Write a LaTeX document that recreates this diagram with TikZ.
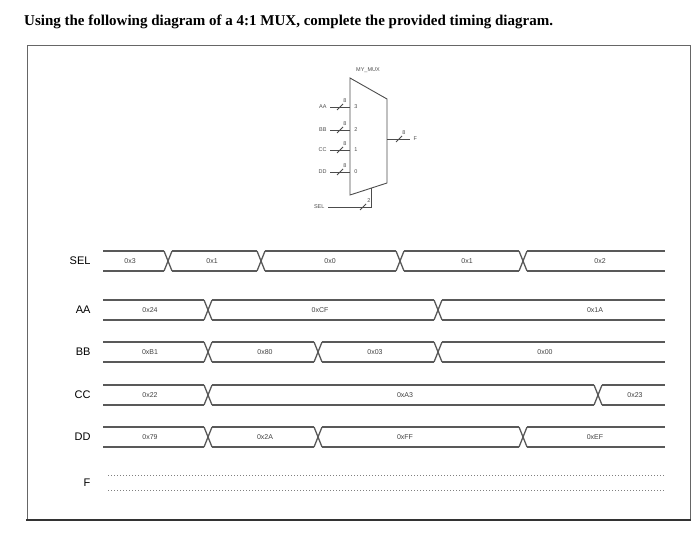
\documentclass[tikz,border=0pt]{standalone}
\usepackage{fontspec}
\setmainfont{Liberation Serif}
\newfontfamily\lsans{Liberation Sans}
\begin{document}
\begin{tikzpicture}[x=1pt,y=-1pt,
  wave/.style={draw=black!65,line width=1.3pt},
  val/.style={font=\lsans\fontsize{7}{7}\selectfont,text=black!75},
  rowlab/.style={font=\lsans\fontsize{11}{11}\selectfont,anchor=east},
  tiny/.style={font=\lsans\fontsize{5.5}{5.5}\selectfont,text=black!70},
  mline/.style={draw=black!70,line width=0.9pt}]
\useasboundingbox (0,0) rectangle (700,554);
\node[anchor=west,font=\bfseries\fontsize{15}{16}\selectfont,inner sep=0pt] (title) at (24,22) {Using the following diagram of a 4:1 MUX, complete the provided timing diagram.};
\draw[black!60,line width=0.8pt] (27,520) -- (27,45) -- (690,45) -- (690,520);
\draw[black!80,line width=2.5pt] (26,520) -- (691,520);
% MUX
\node[tiny] (mname) at (368,70) {MY\_MUX};
\draw[mline] (350,78) -- (387,99) -- (387,183) -- (350,195) -- cycle;
\foreach \n/\y/\s in {AA/107/3,BB/130/2,CC/150/1,DD/172/0}{
  \node[tiny,anchor=east] (in\n) at (330,\y) {\n};
  \draw[mline] (in\n.east) -- (350,\y);
  \draw[mline] (337,\y+3) -- (343,\y-3);
  \node[tiny] at (345,\y-6) {8};
  \node[tiny] at (356,\y) {\s};
}
\coordinate (mout) at (387,139);
\node[tiny,anchor=west] (F) at (410,139) {F};
\draw[mline] (mout) -- (F.west);
\draw[mline] (396,142) -- (402,136); \node[tiny] at (404,133) {8};
\node[tiny,anchor=east] (sel) at (328,207) {SEL};
\coordinate (selin) at (371,188);
\draw[mline] (sel.east) -- (371,207) -- (selin);
\draw[mline] (360,210) -- (366,204); \node[tiny] at (369,201) {2};
% timing
\newcommand\seg[3]{\draw[wave] (#1,#3-10) -- (#2,#3-10) (#1,#3+10) -- (#2,#3+10);}
\newcommand\xx[2]{\draw[wave] (#1-4,#2-10) -- (#1+4,#2+10) (#1-4,#2+10) -- (#1+4,#2-10);}
% SEL
\node[rowlab] (lSEL) at (94,261) {SEL};
\seg{103}{164}{261}\xx{168}{261}\seg{172}{257}{261}\xx{261}{261}\seg{265}{396}{261}\xx{400}{261}\seg{404}{519}{261}\xx{523}{261}\seg{527}{665}{261}
\foreach \x/\v in {130/0x3,212/0x1,330/0x0,467/0x1,600/0x2}{\node[val] at (\x,261) {\v};}
% AA
\node[rowlab] (lAA) at (94,310) {AA};
\seg{103}{204}{310}\xx{208}{310}\seg{212}{434}{310}\xx{438}{310}\seg{442}{665}{310}
\foreach \x/\v in {150/0x24,320/0xCF,595/0x1A}{\node[val] at (\x,310) {\v};}
% BB
\node[rowlab] (lBB) at (94,352) {BB};
\seg{103}{204}{352}\xx{208}{352}\seg{212}{314}{352}\xx{318}{352}\seg{322}{434}{352}\xx{438}{352}\seg{442}{665}{352}
\foreach \x/\v in {150/0xB1,265/0x80,375/0x03,545/0x00}{\node[val] at (\x,352) {\v};}
% CC
\node[rowlab] (lCC) at (94,395) {CC};
\seg{103}{204}{395}\xx{208}{395}\seg{212}{594}{395}\xx{598}{395}\seg{602}{665}{395}
\foreach \x/\v in {150/0x22,405/0xA3,635/0x23}{\node[val] at (\x,395) {\v};}
% DD
\node[rowlab] (lDD) at (94,437) {DD};
\seg{103}{204}{437}\xx{208}{437}\seg{212}{314}{437}\xx{318}{437}\seg{322}{519}{437}\xx{523}{437}\seg{527}{665}{437}
\foreach \x/\v in {150/0x79,265/0x2A,405/0xFF,595/0xEF}{\node[val] at (\x,437) {\v};}
% F
\node[rowlab] (lF) at (94,483) {F};
\draw[black!50,line width=1pt,dotted] (108,475) -- (665,475) (108,490) -- (665,490);
\end{tikzpicture}
\end{document}
